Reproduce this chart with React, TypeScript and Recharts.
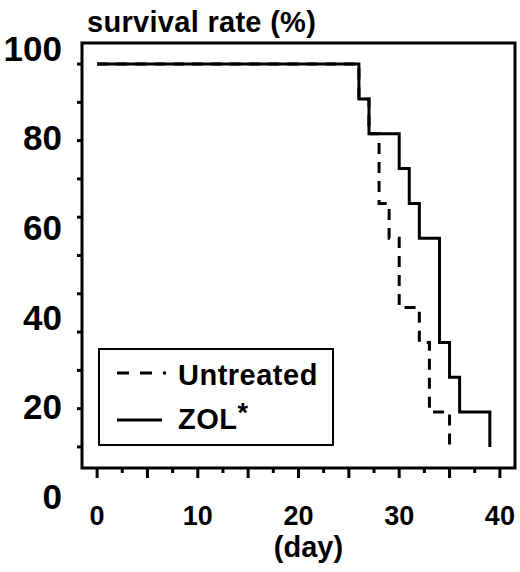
import { LineChart, Line, XAxis, YAxis, ReferenceArea, Legend } from "recharts";

// Kaplan-Meier steps (11 mice per group)
const UNTREATED_DAYS = [0, 26, 27, 28, 29, 30, 32, 33, 35];
const UNTREATED_RATE = [100, 90.9, 81.8, 63.6, 54.5, 36.4, 27.3, 9.1, 0];
const ZOL_DAYS = [0, 26, 27, 30, 31, 32, 34, 35, 36, 39];
const ZOL_RATE = [100, 90.9, 81.8, 72.7, 63.6, 54.5, 27.3, 18.2, 9.1, 0];

const SERIES_NAMES = ["Untreated", "ZOL*"];

const X_TICKS = [0, 2.5, 5, 7.5, 10, 12.5, 15, 17.5, 20, 22.5, 25, 27.5, 30, 32.5, 35, 37.5, 40];
const X_LABELS = [0, 10, 20, 30, 40];
const Y_TICKS = [0, 10, 20, 30, 40, 50, 60, 70, 80, 90, 100];
const Y_LABELS = [0, 20, 40, 60, 80, 100];

const FONT = "'Liberation Sans', Arial, sans-serif";

const toRows = (days: number[], rates: number[]) => days.map((day, i) => ({ day, rate: rates[i] }));
const untreatedRows = toRows(UNTREATED_DAYS, UNTREATED_RATE);
const zolRows = toRows(ZOL_DAYS, ZOL_RATE);

// the number column in the original sits on its own spacing, not on the ticks
const labelShift = (v: number) => 50 - 0.655 * v;

function XTick(props: any) {
  const { x, y, payload } = props;
  const v = payload.value;
  const major = v % 5 === 0;
  return (
    <g>
      <line x1={x} x2={x} y1={y} y2={y + (major ? 10 : 5)} stroke="#000" strokeWidth={3} />
      {X_LABELS.includes(v) && (
        <text x={x} y={y + 57} textAnchor="middle" fontSize={27} fontWeight="bold" fontFamily={FONT} fill="#000">
          {v}
        </text>
      )}
    </g>
  );
}

function YTick(props: any) {
  const { x, y, payload } = props;
  const v = payload.value;
  return (
    <g>
      <line x1={x} x2={x - 5} y1={y} y2={y} stroke="#000" strokeWidth={3} />
      {Y_LABELS.includes(v) && (
        <text x={x - 20} y={y + labelShift(v) + 12} textAnchor="end" fontSize={35} fontWeight="bold" fontFamily={FONT} fill="#000">
          {v}
        </text>
      )}
    </g>
  );
}

function LegendBox(props: any) {
  const names = (props.payload || []).map((p: any) => p.value);
  return (
    <svg width={236} height={98}>
      <rect x={1} y={1} width={234} height={96} fill="#fff" stroke="#000" strokeWidth={2} />
      <line x1={19} x2={68} y1={25} y2={25} stroke="#000" strokeWidth={3} strokeDasharray="12 11" />
      <line x1={19} x2={64} y1={72} y2={72} stroke="#000" strokeWidth={3} />
      {names.map((name: string, i: number) => {
        const star = name.endsWith("*");
        return (
          <text
            key={name}
            x={80}
            y={i === 0 ? 37 : 81}
            fontSize={29}
            letterSpacing={0.5}
            fontWeight="bold"
            fontFamily={FONT}
            fill="#000"
          >
            {star ? name.slice(0, -1) : name}
            {star && <tspan fontSize={27} dy={-7}>*</tspan>}
          </text>
        );
      })}
    </svg>
  );
}

export default function App() {
  return (
    <div style={{ position: "absolute", left: 0, top: 0, width: 520, height: 572, background: "#fff", fontFamily: FONT }}>
      <div
        style={{
          position: "absolute",
          left: 87,
          top: 8,
          fontSize: 29,
          lineHeight: "28px",
          fontWeight: "bold",
          letterSpacing: 0.3,
          whiteSpace: "nowrap",
        }}
      >
        survival rate (%)
      </div>
      <LineChart width={520} height={572} margin={{ top: 43, right: 5, bottom: 64, left: 0 }}>
        <XAxis
          dataKey="day"
          type="number"
          domain={[-1.5, 41.5]}
          allowDataOverflow
          ticks={X_TICKS}
          interval={0}
          height={40}
          axisLine={false}
          tickLine={false}
          tickSize={0}
          tickMargin={0}
          tick={<XTick />}
          label={{
            content: (p: any) => (
              <text
                x={p.viewBox.x + p.viewBox.width / 2 + 10}
                y={p.viewBox.y + p.viewBox.height + 49}
                textAnchor="middle"
                fontSize={29}
                fontWeight="bold"
                fontFamily={FONT}
                fill="#000"
              >
                (day)
              </text>
            ),
          }}
        />
        <YAxis
          type="number"
          domain={[-5.5, 105.5]}
          allowDataOverflow
          ticks={Y_TICKS}
          interval={0}
          width={82}
          axisLine={false}
          tickLine={false}
          tickSize={0}
          tickMargin={0}
          tick={<YTick />}
        />
        <ReferenceArea x1={-1.5} x2={41.5} y1={-5.5} y2={105.5} ifOverflow="visible" fill="none" stroke="#000" strokeWidth={3} />
        <Legend
          layout="vertical"
          align="center"
          verticalAlign="middle"
          content={<LegendBox />}
          wrapperStyle={{ position: "absolute", left: 98, top: 348, width: 236, height: 98 }}
        />
        <Line
          data={untreatedRows}
          dataKey="rate"
          name={SERIES_NAMES[0]}
          type="stepAfter"
          stroke="#000"
          strokeWidth={3}
          strokeDasharray="11 8"
          dot={false}
          isAnimationActive={false}
        />
        <Line
          data={zolRows}
          dataKey="rate"
          name={SERIES_NAMES[1]}
          type="stepAfter"
          stroke="#000"
          strokeWidth={3}
          dot={false}
          isAnimationActive={false}
        />
      </LineChart>
    </div>
  );
}
